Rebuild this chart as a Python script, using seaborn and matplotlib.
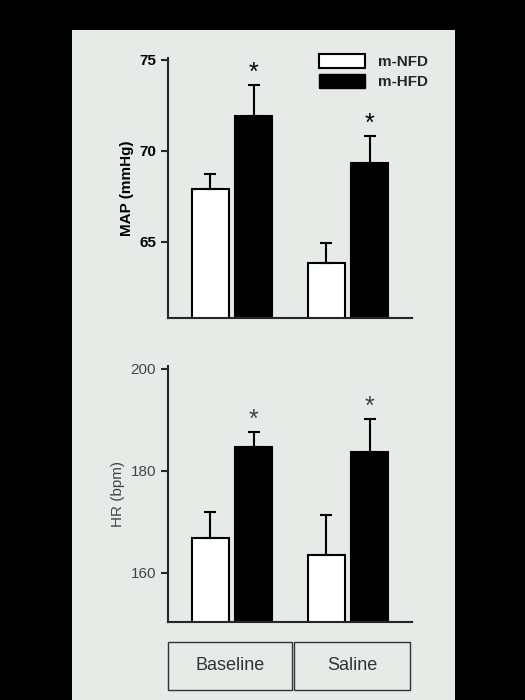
import matplotlib
matplotlib.use('Agg')
import matplotlib.pyplot as plt
from matplotlib.patches import Patch
import seaborn as sns
import pandas as pd

sns.set_style('ticks')
plt.rcParams['font.family'] = ['Liberation Sans', 'DejaVu Sans']

conditions = ['Baseline', 'Saline']
groups = ['m-NFD', 'm-HFD']
map_mean = {'m-NFD': [67.9, 63.8], 'm-HFD': [71.9, 69.3]}
map_err = {'m-NFD': [0.8, 1.1], 'm-HFD': [1.7, 1.5]}
hr_mean = {'m-NFD': [166.8, 163.5], 'm-HFD': [184.7, 183.7]}
hr_err = {'m-NFD': [5.2, 7.8], 'm-HFD': [2.9, 6.5]}

W, H = 525, 700
fig = plt.figure(figsize=(W / 100, H / 100), dpi=100, facecolor='black')
# light panel behind the axes
fig.patches.append(plt.Rectangle((72 / W, 0), 383 / W, 1 - 30 / H, transform=fig.transFigure,
                                 facecolor='#e6ebe8', edgecolor='none', zorder=-10))


def panel(rect, means, errs, ylim, yticks, ylabel, weight, color):
    ax = fig.add_axes(rect)
    ax.set_facecolor('none')
    ax.set_zorder(5)
    df = pd.DataFrame([(c, g, means[g][i]) for g in groups for i, c in enumerate(conditions)],
                      columns=['cond', 'group', 'val'])
    sns.barplot(data=df, x='cond', y='val', hue='group', hue_order=groups,
                palette={'m-NFD': 'white', 'm-HFD': 'black'}, edgecolor='black',
                linewidth=1.5, width=0.75, gap=0.15, ax=ax, legend=False)
    for gi, g in enumerate(groups):
        for i in range(len(conditions)):
            p = ax.patches[gi * len(conditions) + i]
            x = p.get_x() + p.get_width() / 2
            ax.errorbar(x, means[g][i], yerr=[[0], [errs[g][i]]], color='black',
                        capsize=4, lw=1.5, capthick=1.5)
            if g == 'm-HFD':
                ax.text(x, means[g][i] + errs[g][i], '*', ha='center', va='bottom',
                        fontsize=18, color=color)
    ax.set_ylim(*ylim)
    ax.set_yticks(yticks)
    ax.set_xlim(-0.55, 1.55)
    ax.set_xticks([])
    ax.set_xlabel('')
    ax.set_ylabel(ylabel, fontsize=11, fontweight=weight, color=color)
    ax.tick_params(axis='y', labelsize=11, width=1.5, length=5, labelcolor=color)
    for lab in ax.get_yticklabels():
        lab.set_fontweight(weight)
    sns.despine(ax=ax)
    for s in ['left', 'bottom']:
        ax.spines[s].set_linewidth(1.5)
    return ax


ax1 = panel([168 / W, 1 - 318 / H, 244 / W, 260 / H], map_mean, map_err,
            (60.8, 75.1), [65, 70, 75], 'MAP (mmHg)', 'bold', 'black')
ax2 = panel([168 / W, 1 - 622 / H, 244 / W, 256 / H], hr_mean, hr_err,
            (150.4, 200.5), [160, 180, 200], 'HR (bpm)', 'normal', '#444444')

ax1.legend(handles=[Patch(facecolor='white', edgecolor='black', lw=1.5, label='m-NFD'),
                    Patch(facecolor='black', edgecolor='black', label='m-HFD')],
           loc='upper right', bbox_to_anchor=(1.12, 1.07), frameon=False,
           handlelength=3, handleheight=1.1, labelspacing=0.3,
           prop={'weight': 'bold', 'size': 11})

# condition boxes
for c, (x0, x1) in zip(conditions, [(168, 292), (294, 410)]):
    fig.patches.append(plt.Rectangle((x0 / W, 1 - 690 / H), (x1 - x0) / W, 48 / H,
                                     transform=fig.transFigure, facecolor='none',
                                     edgecolor='#333333', lw=1))
    fig.text((x0 + x1) / 2 / W, 1 - 665 / H, c, ha='center', va='center', fontsize=13,
             color='#333333')

fig.savefig('out.png', dpi=100, facecolor='black')
